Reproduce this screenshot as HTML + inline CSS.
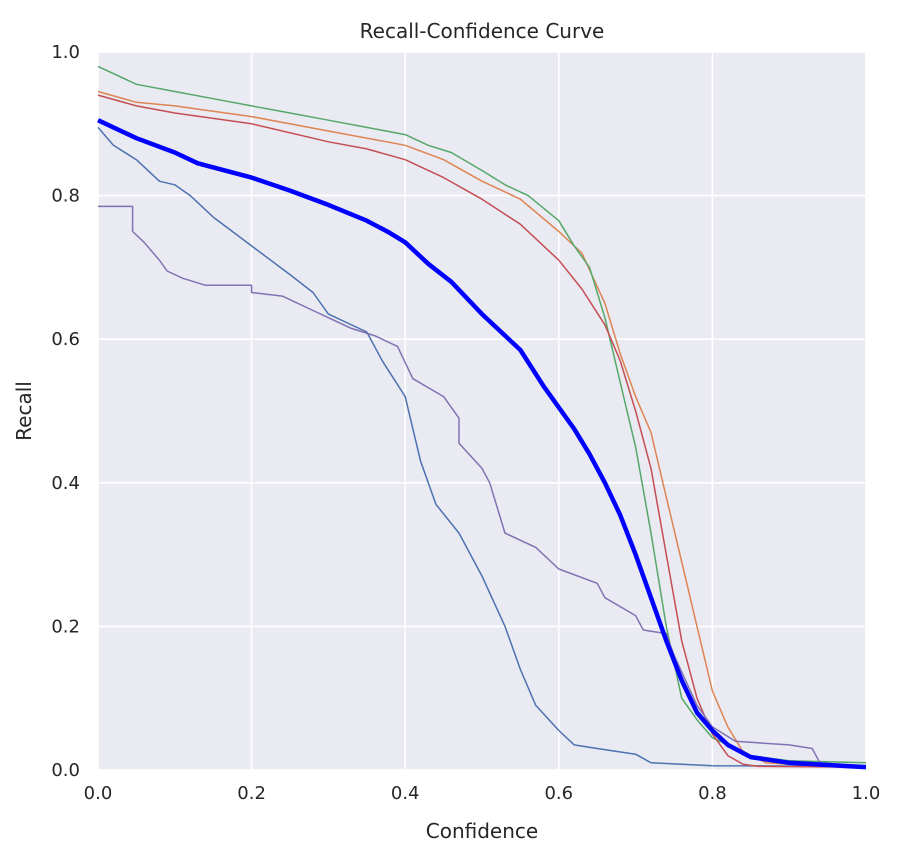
<!DOCTYPE html>
<html><head><meta charset="utf-8"><style>
body{margin:0;background:#fff;}
svg text{font-family:"DejaVu Sans","Liberation Sans",sans-serif;fill:#262626;}
</style></head><body>
<svg id="chart" width="903" height="862" xmlns="http://www.w3.org/2000/svg">
<rect x="98" y="52" width="768" height="718" fill="#eaeaf2"/>
<g id="grid"></g>
<g id="series"></g>
<g id="ticks"></g>
<text x="482" y="38" font-size="20" text-anchor="middle">Recall-Confidence Curve</text>
<text x="482" y="838" font-size="20" text-anchor="middle">Confidence</text>
<text x="31" y="411" font-size="20" text-anchor="middle" transform="rotate(-90 31 411)">Recall</text>
</svg>
<script>
const ticks=[0,0.2,0.4,0.6,0.8,1.0];
const tickLabels=["0.0","0.2","0.4","0.6","0.8","1.0"];
const seriesNames=["class-a","class-b","class-c","class-d","class-e","all-classes"];
const sAx=[0,0.02,0.05,0.08,0.1,0.12,0.15,0.2,0.25,0.28,0.3,0.35,0.37,0.4,0.42,0.44,0.47,0.5,0.53,0.55,0.57,0.6,0.62,0.65,0.7,0.72,0.8,1.0];
const sAy=[0.895,0.87,0.85,0.82,0.815,0.8,0.77,0.73,0.69,0.665,0.635,0.61,0.57,0.52,0.43,0.37,0.33,0.27,0.2,0.14,0.09,0.055,0.035,0.03,0.022,0.01,0.006,0.005];
const sBx=[0,0.05,0.1,0.2,0.3,0.4,0.45,0.5,0.55,0.6,0.63,0.66,0.68,0.7,0.72,0.74,0.76,0.78,0.8,0.82,0.84,0.87,0.9,1.0];
const sBy=[0.945,0.93,0.925,0.91,0.89,0.87,0.85,0.82,0.795,0.75,0.72,0.65,0.58,0.52,0.47,0.38,0.29,0.2,0.11,0.06,0.025,0.01,0.008,0.005];
const sCx=[0,0.05,0.1,0.15,0.2,0.25,0.3,0.35,0.4,0.43,0.46,0.5,0.53,0.56,0.6,0.62,0.64,0.66,0.68,0.7,0.72,0.74,0.76,0.78,0.8,0.82,0.85,0.9,1.0];
const sCy=[0.98,0.955,0.945,0.935,0.925,0.915,0.905,0.895,0.885,0.87,0.86,0.835,0.815,0.8,0.765,0.73,0.7,0.63,0.54,0.45,0.33,0.2,0.1,0.07,0.045,0.035,0.02,0.013,0.01];
const sDx=[0,0.05,0.1,0.2,0.3,0.35,0.4,0.45,0.5,0.55,0.6,0.63,0.66,0.68,0.7,0.72,0.74,0.76,0.78,0.8,0.82,0.84,0.86,1.0];
const sDy=[0.94,0.925,0.915,0.9,0.875,0.865,0.85,0.825,0.795,0.76,0.71,0.67,0.62,0.57,0.5,0.42,0.3,0.18,0.1,0.05,0.02,0.008,0.005,0.004];
const sEx=[0,0.045,0.045,0.06,0.08,0.09,0.11,0.14,0.2,0.2,0.24,0.28,0.3,0.31,0.33,0.36,0.39,0.41,0.45,0.47,0.47,0.5,0.51,0.53,0.57,0.6,0.65,0.66,0.7,0.71,0.74,0.75,0.78,0.8,0.83,0.9,0.93,0.94,1.0];
const sEy=[0.785,0.785,0.75,0.735,0.71,0.695,0.685,0.675,0.675,0.665,0.66,0.64,0.63,0.625,0.615,0.605,0.59,0.545,0.52,0.49,0.455,0.42,0.4,0.33,0.31,0.28,0.26,0.24,0.215,0.195,0.19,0.16,0.09,0.06,0.04,0.035,0.03,0.01,0.005];
const sMx=[0,0.05,0.1,0.13,0.2,0.25,0.3,0.35,0.38,0.4,0.43,0.46,0.5,0.55,0.58,0.6,0.62,0.64,0.66,0.68,0.7,0.72,0.74,0.76,0.78,0.8,0.82,0.85,0.9,0.95,1.0];
const sMy=[0.905,0.88,0.86,0.845,0.825,0.807,0.787,0.765,0.748,0.735,0.705,0.68,0.635,0.585,0.535,0.505,0.475,0.44,0.4,0.355,0.3,0.24,0.18,0.125,0.08,0.055,0.035,0.018,0.01,0.007,0.004];
const NS="http://www.w3.org/2000/svg";
const X=v=>98+v*768, Y=v=>770-v*718;
const grid=document.getElementById('grid'),tk=document.getElementById('ticks'),sg=document.getElementById('series');
ticks.forEach((t,i)=>{
 let l=document.createElementNS(NS,'line');
 l.setAttribute('x1',X(t));l.setAttribute('x2',X(t));l.setAttribute('y1',52);l.setAttribute('y2',770);
 l.setAttribute('stroke','#fff');l.setAttribute('stroke-width','1.6');
 
 
 grid.appendChild(l);
 let h=document.createElementNS(NS,'line');
 h.setAttribute('x1',98);h.setAttribute('x2',866);h.setAttribute('y1',Y(t));h.setAttribute('y2',Y(t));
 h.setAttribute('stroke','#fff');h.setAttribute('stroke-width','1.6');
 
 
 grid.appendChild(h);
 let tx=document.createElementNS(NS,'text');
 tx.setAttribute('x',X(t));tx.setAttribute('y',799);tx.setAttribute('font-size','18');tx.setAttribute('text-anchor','middle');
 tx.textContent=tickLabels[i];
 
 
 tk.appendChild(tx);
 let ty=document.createElementNS(NS,'text');
 ty.setAttribute('x',80);ty.setAttribute('y',Y(t)+6);ty.setAttribute('font-size','18');ty.setAttribute('text-anchor','end');
 ty.textContent=tickLabels[i];
 
 
 tk.appendChild(ty);
});
const defs=[[sAx,sAy,'#4c72b0',1.5],[sBx,sBy,'#dd8452',1.5],[sCx,sCy,'#55a868',1.5],[sDx,sDy,'#c44e52',1.5],[sEx,sEy,'#8172b3',1.5],[sMx,sMy,'#0000ff',4.5]];
defs.forEach((d,i)=>{
 let p=document.createElementNS(NS,'path');
 p.setAttribute('d',d[0].map((x,j)=>(j?'L':'M')+X(x).toFixed(1)+' '+Y(d[1][j]).toFixed(1)).join(''));
 p.setAttribute('fill','none');p.setAttribute('stroke',d[2]);p.setAttribute('stroke-width',d[3]);p.setAttribute('stroke-linejoin','round');
 
 
 sg.appendChild(p);
});
</script>
</body></html>
